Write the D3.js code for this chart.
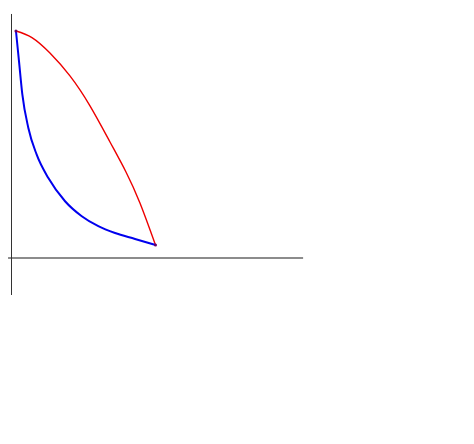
<!DOCTYPE html>
<html><head><meta charset="utf-8">
<script src="https://cdn.jsdelivr.net/npm/d3@7"></script>
<style>html,body{margin:0;padding:0;background:#fff;}</style>
</head><body>
<script>
// Red curve (V, P)
const redV = [0.31, 1.42, 2.67, 4.06, 5.45, 6.84, 7.95, 8.92, 10.0];
const redP = [10.0, 9.71, 9.03, 8.02, 6.70, 5.11, 3.79, 2.42, 0.57];
// Blue curve (V, P)
const blueV = [0.31, 0.52, 0.75, 1.17, 1.75, 2.56, 3.72, 4.88, 6.03, 7.19, 8.58, 10.0];
const blueP = [10.0, 8.67, 7.22, 5.73, 4.55, 3.52, 2.50, 1.84, 1.40, 1.10, 0.84, 0.57];
// Axis extents
const xAxisExtent = [-0.24, 20.25];
const yAxisExtent = [-1.63, 10.75];

const W = 474, H = 444;
const svg = d3.select("body").append("svg").attr("width", W).attr("height", H);
const x = d3.scaleLinear().domain([0, 10]).range([11.5, 155.5]);
const y = d3.scaleLinear().domain([0, 10]).range([258, 31]);

svg.append("line")
  .attr("x1", x(xAxisExtent[0])).attr("x2", x(xAxisExtent[1]))
  .attr("y1", y(0)).attr("y2", y(0))
  .attr("stroke", "#666").attr("stroke-width", 1.5);
svg.append("line")
  .attr("x1", x(0)).attr("x2", x(0))
  .attr("y1", y(yAxisExtent[0])).attr("y2", y(yAxisExtent[1]))
  .attr("stroke", "#333").attr("stroke-width", 1);

const red = redV.map((v, i) => [v, redP[i]]);
const blue = blueV.map((v, i) => [v, blueP[i]]);
const redLine = d3.line().x(d => x(d[0])).y(d => y(d[1])).curve(d3.curveNatural);
const blueLine = d3.line().x(d => x(d[0])).y(d => y(d[1])).curve(d3.curveMonotoneX);

svg.append("path").attr("d", redLine(red)).attr("fill", "none")
  .attr("stroke", "#ee0000").attr("stroke-width", 1.4);
svg.append("path").attr("d", blueLine(blue)).attr("fill", "none")
  .attr("stroke", "#0000ee").attr("stroke-width", 2);

const ends = [red[0], red[red.length - 1]];
svg.selectAll("circle.end").data(ends).enter().append("circle")
  .attr("cx", d => x(d[0])).attr("cy", d => y(d[1])).attr("r", 1.5)
  .attr("fill", "#660066");
</script>
</body></html>
